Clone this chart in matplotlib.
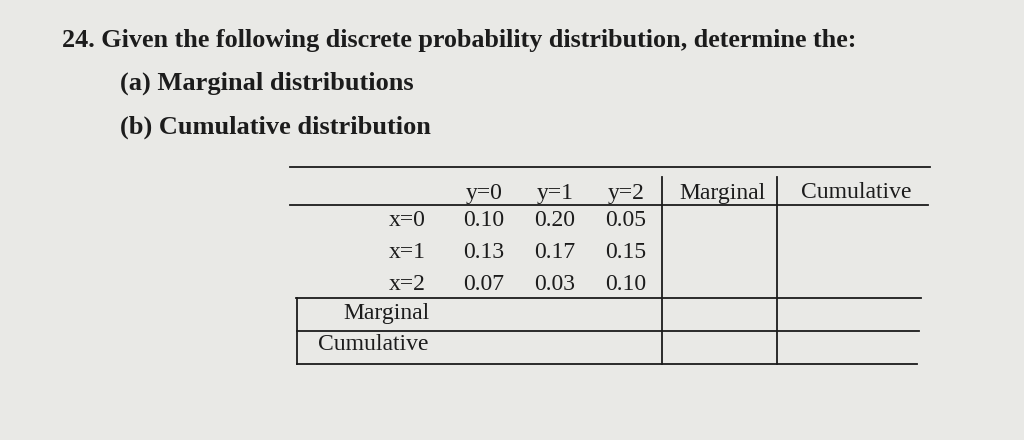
import matplotlib.pyplot as plt

plt.rcParams['font.family'] = ['Liberation Serif', 'DejaVu Serif']

# Problem text
title = "24. Given the following discrete probability distribution, determine the:"
parts = ["(a) Marginal distributions", "(b) Cumulative distribution"]

# Table contents
col_labels = ["y=0", "y=1", "y=2"]
row_labels = ["x=0", "x=1", "x=2"]
probs = [[0.10, 0.20, 0.05],
         [0.13, 0.17, 0.15],
         [0.07, 0.03, 0.10]]
extra_cols = ["Marginal", "Cumulative"]
extra_rows = ["Marginal", "Cumulative"]

fig = plt.figure(figsize=(10.24, 4.4), dpi=100)
fig.patch.set_facecolor('#e9e9e6')
ax = fig.add_axes([0, 0, 1, 1])
ax.set_xlim(0, 1024)
ax.set_ylim(440, 0)
ax.axis('off')

ink = '#1c1c1c'
ax.text(62, 40, title, fontsize=18.8, fontweight='bold', color=ink, va='center')
ax.text(120, 83, parts[0], fontsize=19, fontweight='bold', color=ink, va='center')
ax.text(120, 127, parts[1], fontsize=19, fontweight='bold', color=ink, va='center')

# table geometry
col_x = [484, 555, 626]
extra_x = [722, 856]
row_y = [220, 252, 285]
head_y = 193
fs = 17

for cx, lab in zip(col_x, col_labels):
    ax.text(cx, head_y, lab, fontsize=fs, color=ink, ha='center', va='center')
for cx, lab in zip(extra_x, extra_cols):
    ax.text(cx, head_y, lab, fontsize=fs, color=ink, ha='center', va='center')
for ry, lab, row in zip(row_y, row_labels, probs):
    ax.text(407, ry, lab, fontsize=fs, color=ink, ha='center', va='center')
    for cx, v in zip(col_x, row):
        ax.text(cx, ry, f"{v:.2f}", fontsize=fs, color=ink, ha='center', va='center')
ax.text(386, 313, extra_rows[0], fontsize=fs, color=ink, ha='center', va='center')
ax.text(373, 345, extra_rows[1], fontsize=fs, color=ink, ha='center', va='center')

lw = 1.3
ax.plot([290, 930], [167, 167], color=ink, lw=lw)
ax.plot([290, 928], [205, 205], color=ink, lw=lw)
ax.plot([296, 921], [298, 298], color=ink, lw=lw)
ax.plot([297, 919], [331, 331], color=ink, lw=lw)
ax.plot([297, 917], [364, 364], color=ink, lw=lw)
for vx in [662, 777]:
    ax.plot([vx, vx], [177, 364], color=ink, lw=lw)
ax.plot([297, 297], [298, 364], color=ink, lw=lw)

fig.savefig('out.png', dpi=100, facecolor=fig.get_facecolor())
